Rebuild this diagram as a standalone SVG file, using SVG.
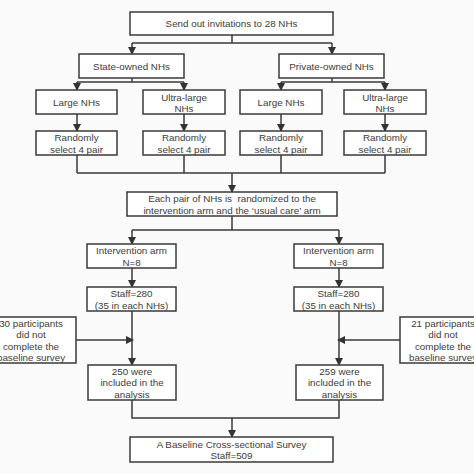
<svg xmlns="http://www.w3.org/2000/svg" width="474" height="474" viewBox="0 0 474 474">
<style>
.b{fill:#fff;stroke:#3a3a3a;stroke-width:1.5}
.t{font-family:"Liberation Sans",Arial,sans-serif;font-size:9.8px;fill:#3c3c3c;text-anchor:middle}
.c{fill:none;stroke:#3a3a3a;stroke-width:1.5}
</style>
<defs>
<marker id="a" markerWidth="8" markerHeight="8" refX="7" refY="4" orient="auto" markerUnits="userSpaceOnUse">
<path d="M0,0 L8,4 L0,8 z" fill="#333"/>
</marker>
</defs>
<rect width="474" height="474" fill="#fafafa"/>
<g id="connectors">
<path class="c" d="M232,35 V43 M132,43 H332"/>
<path class="c" d="M132,43 V54" marker-end="url(#a)"/>
<path class="c" d="M332,43 V54" marker-end="url(#a)"/>
<path class="c" d="M132,78 V82 M77,82 H184"/>
<path class="c" d="M77,82 V90" marker-end="url(#a)"/>
<path class="c" d="M184,82 V90" marker-end="url(#a)"/>
<path class="c" d="M332,78 V82 M281,82 H385"/>
<path class="c" d="M281,82 V90" marker-end="url(#a)"/>
<path class="c" d="M385,82 V90" marker-end="url(#a)"/>
<path class="c" d="M77,114 V131" marker-end="url(#a)"/>
<path class="c" d="M184,114 V131" marker-end="url(#a)"/>
<path class="c" d="M281,114 V131" marker-end="url(#a)"/>
<path class="c" d="M385,114 V131" marker-end="url(#a)"/>
<path class="c" d="M77,155 V173 M184,155 V173 M281,155 V173 M385,155 V173 M77,173 H385"/>
<path class="c" d="M232,173 V192" marker-end="url(#a)"/>
<path class="c" d="M232,216 V230 M132,230 H339"/>
<path class="c" d="M132,230 V244" marker-end="url(#a)"/>
<path class="c" d="M339,230 V244" marker-end="url(#a)"/>
<path class="c" d="M132,268 V287" marker-end="url(#a)"/>
<path class="c" d="M339,268 V287" marker-end="url(#a)"/>
<path class="c" d="M132,311 V365" marker-end="url(#a)"/>
<path class="c" d="M339,311 V365" marker-end="url(#a)"/>
<path class="c" d="M76,340 H133" marker-end="url(#a)"/>
<path class="c" d="M400,340 H338" marker-end="url(#a)"/>
<path class="c" d="M132,400 V418 H339 V400"/>
<path class="c" d="M232,418 V437" marker-end="url(#a)"/>
</g>
<g id="n1"><rect class="b" x="130" y="12" width="203" height="23"/><text class="t" x="231.5" y="27">Send out invitations to 28 NHs</text></g>
<g id="n2"><rect class="b" x="79" y="54" width="105" height="24"/><text class="t" x="131.5" y="69.5">State-owned NHs</text></g>
<g id="n3"><rect class="b" x="279" y="54" width="105" height="24"/><text class="t" x="331.5" y="69.5">Private-owned NHs</text></g>
<g id="n4"><rect class="b" x="36" y="90" width="81" height="24"/><text class="t" x="76.5" y="105.5">Large NHs</text></g>
<g id="n5"><rect class="b" x="143" y="90" width="82" height="24"/><text class="t" x="184" y="100.5">Ultra-large</text><text class="t" x="184" y="111.8">NHs</text></g>
<g id="n6"><rect class="b" x="240" y="90" width="82" height="24"/><text class="t" x="281" y="105.5">Large NHs</text></g>
<g id="n7"><rect class="b" x="344" y="90" width="82" height="24"/><text class="t" x="385" y="100.5">Ultra-large</text><text class="t" x="385" y="111.8">NHs</text></g>
<g id="n8"><rect class="b" x="36" y="131" width="81" height="24"/><text class="t" x="76.5" y="141.3">Randomly</text><text class="t" x="76.5" y="152.6">select 4 pair</text></g>
<g id="n9"><rect class="b" x="143" y="131" width="82" height="24"/><text class="t" x="184" y="141.3">Randomly</text><text class="t" x="184" y="152.6">select 4 pair</text></g>
<g id="n10"><rect class="b" x="240" y="131" width="82" height="24"/><text class="t" x="281" y="141.3">Randomly</text><text class="t" x="281" y="152.6">select 4 pair</text></g>
<g id="n11"><rect class="b" x="344" y="131" width="82" height="24"/><text class="t" x="385" y="141.3">Randomly</text><text class="t" x="385" y="152.6">select 4 pair</text></g>
<g id="n12"><rect class="b" x="127" y="192" width="210" height="24"/><text class="t" x="232" y="202.3" xml:space="preserve">Each pair of NHs is  randomized to the</text><text class="t" x="232" y="213.6">intervention arm and the ‘usual care’ arm</text></g>
<g id="n13"><rect class="b" x="87" y="244" width="89" height="24"/><text class="t" x="131.5" y="254.3">Intervention arm</text><text class="t" x="131.5" y="265.6">N=8</text></g>
<g id="n14"><rect class="b" x="294" y="244" width="89" height="24"/><text class="t" x="338.5" y="254.3">Intervention arm</text><text class="t" x="338.5" y="265.6">N=8</text></g>
<g id="n15"><rect class="b" x="87" y="287" width="89" height="24"/><text class="t" x="131.5" y="297.3">Staff=280</text><text class="t" x="131.5" y="308.6">(35 in each NHs)</text></g>
<g id="n16"><rect class="b" x="294" y="287" width="89" height="24"/><text class="t" x="338.5" y="297.3">Staff=280</text><text class="t" x="338.5" y="308.6">(35 in each NHs)</text></g>
<g id="n17"><rect class="b" x="-14" y="317" width="90" height="46"/><text class="t" x="31" y="327">30 participants</text><text class="t" x="31" y="338.3">did not</text><text class="t" x="31" y="349.6">complete the</text><text class="t" x="31" y="360.9">baseline survey</text></g>
<g id="n18"><rect class="b" x="400" y="317" width="90" height="46"/><text class="t" x="443" y="327">21 participants</text><text class="t" x="443" y="338.3">did not</text><text class="t" x="443" y="349.6">complete the</text><text class="t" x="443" y="360.9">baseline survey</text></g>
<g id="n19"><rect class="b" x="88" y="365" width="88" height="35"/><text class="t" x="132" y="375">250 were</text><text class="t" x="132" y="386.3">included in the</text><text class="t" x="132" y="397.6">analysis</text></g>
<g id="n20"><rect class="b" x="296" y="365" width="87" height="35"/><text class="t" x="339.5" y="375">259 were</text><text class="t" x="339.5" y="386.3">included in the</text><text class="t" x="339.5" y="397.6">analysis</text></g>
<g id="n21"><rect class="b" x="130" y="437" width="203" height="25"/><text class="t" x="231.5" y="447.8">A Baseline Cross-sectional Survey</text><text class="t" x="231.5" y="459.1">Staff=509</text></g>
</svg>
